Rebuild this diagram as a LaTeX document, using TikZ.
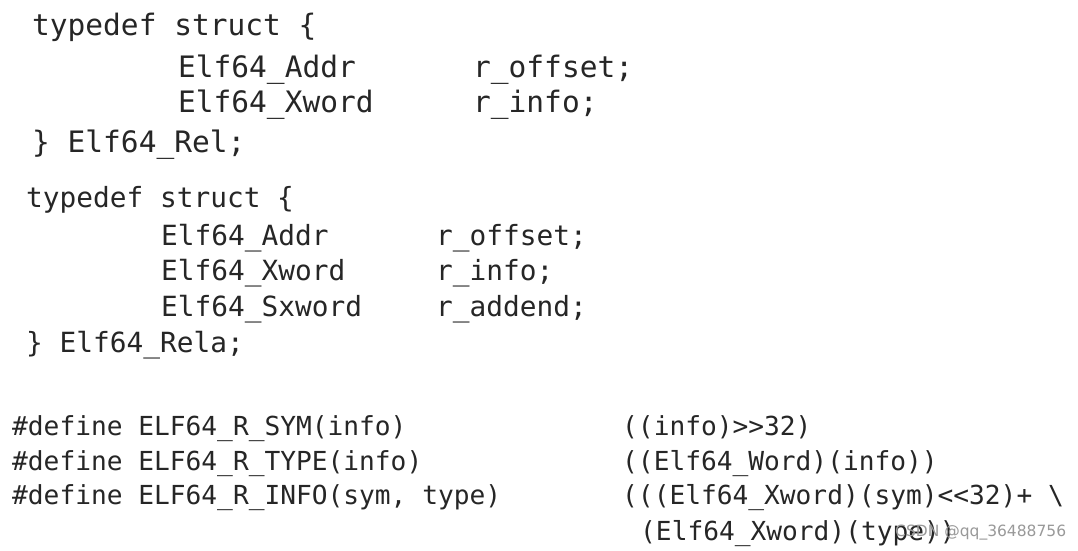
\documentclass[tikz,border=0pt]{standalone}
\usepackage{fontspec}
\newfontfamily\code{DejaVu Sans Mono}
\newfontfamily\wm{DejaVu Sans}
\begin{document}
\begin{tikzpicture}[x=1pt,y=1pt,
  ln/.style={anchor=base west,inner sep=0pt,text=black!85},
  a/.style={ln,font=\code\fontsize{29.5}{30}\selectfont},
  b/.style={ln,font=\code\fontsize{27.8}{28}\selectfont},
  c/.style={ln,font=\code\fontsize{26.2}{26}\selectfont}]
\useasboundingbox (0,0) rectangle (1078,550);
\fill[white] (0,0) rectangle (1078,550);
% block 1
\node[a] (a1) at (32,514) {typedef struct \{};
\node[a] (a2) at (178,472) {Elf64\_Addr};
\node[a] (a2r) at (473,472) {r\_offset;};
\node[a] (a3) at (178,437) {Elf64\_Xword};
\node[a] (a3r) at (473,437) {r\_info;};
\node[a] (a4) at (32,398) {\} Elf64\_Rel;};
% block 2
\node[b] (b1) at (26,343) {typedef struct \{};
\node[b] (b2) at (161,305) {Elf64\_Addr};
\node[b] (b2r) at (436,305) {r\_offset;};
\node[b] (b3) at (161,270) {Elf64\_Xword};
\node[b] (b3r) at (436,270) {r\_info;};
\node[b] (b4) at (161,234) {Elf64\_Sxword};
\node[b] (b4r) at (436,234) {r\_addend;};
\node[b] (b5) at (26,198) {\} Elf64\_Rela;};
% defines
\node[c] (c1) at (12,115) {\#define ELF64\_R\_SYM(info)};
\node[c] (c1r) at (622,115) {((info)>{}>32)};
\node[c] (c2) at (12,80) {\#define ELF64\_R\_TYPE(info)};
\node[c] (c2r) at (622,80) {((Elf64\_Word)(info))};
\node[c] (c3) at (12,46) {\#define ELF64\_R\_INFO(sym, type)};
\node[c] (c3r) at (622,46) {(((Elf64\_Xword)(sym)<{}<32)+ \textbackslash};
\node[c] (c4) at (640,10) {(Elf64\_Xword)(type))};
\node[anchor=base west,inner sep=0pt,text=black!40,font=\wm\fontsize{15.5}{16}\selectfont] (w) at (895,14) {CSDN @qq\_36488756};
\end{tikzpicture}
\end{document}
